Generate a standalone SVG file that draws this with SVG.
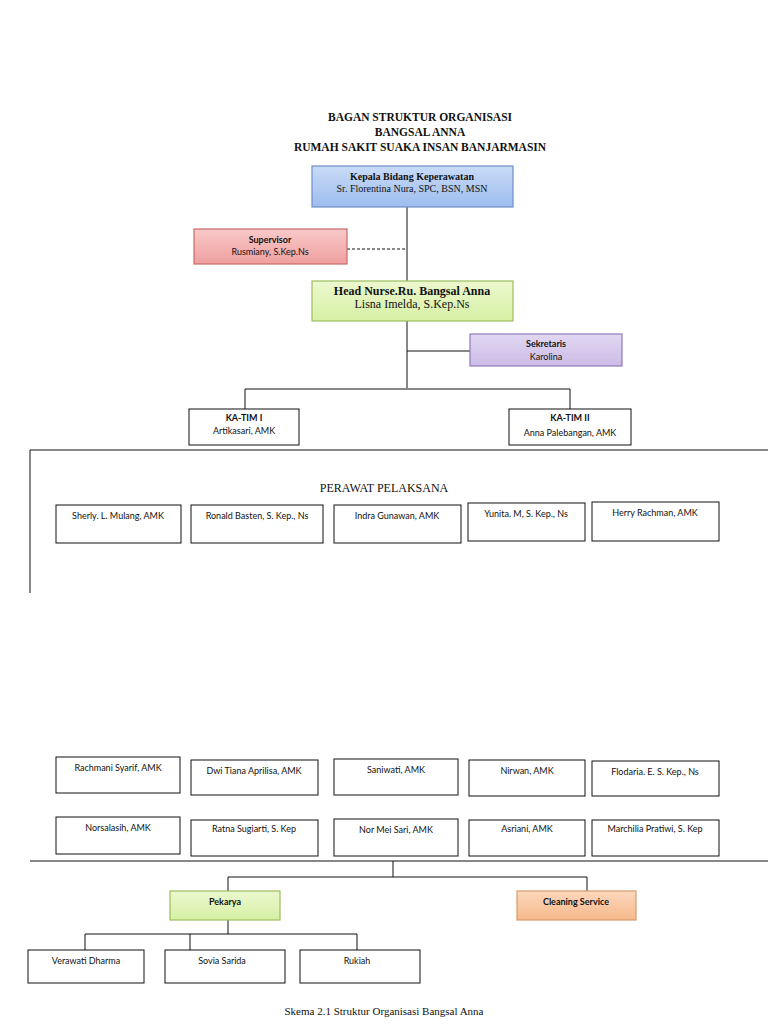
<svg xmlns="http://www.w3.org/2000/svg" width="768" height="1024" viewBox="0 0 768 1024">
<defs>
<linearGradient id="gb" x1="0" y1="0" x2="0" y2="1"><stop offset="0" stop-color="#c9dbf7"/><stop offset="1" stop-color="#9dbdee"/></linearGradient>
<linearGradient id="gr" x1="0" y1="0" x2="0" y2="1"><stop offset="0" stop-color="#f9c9c9"/><stop offset="1" stop-color="#ef9f9f"/></linearGradient>
<linearGradient id="gg" x1="0" y1="0" x2="0" y2="1"><stop offset="0" stop-color="#ecf8cf"/><stop offset="1" stop-color="#d6f0a4"/></linearGradient>
<linearGradient id="gp" x1="0" y1="0" x2="0" y2="1"><stop offset="0" stop-color="#e2d8f2"/><stop offset="1" stop-color="#cbbbe6"/></linearGradient>
<linearGradient id="go" x1="0" y1="0" x2="0" y2="1"><stop offset="0" stop-color="#fbd8bd"/><stop offset="1" stop-color="#f6b88a"/></linearGradient>
</defs>
<style>
.t{font-family:"Liberation Serif",serif;font-weight:bold;font-size:11.5px;text-anchor:middle;fill:#111}
.s{font-family:"Liberation Serif",serif;text-anchor:middle;fill:#111}
.c{font-family:Lato,"Liberation Sans",sans-serif;font-size:9px;text-anchor:middle;fill:#111}
.b{font-weight:bold}
.w{fill:#fff;stroke:#111;stroke-width:1}
.col{stroke-width:1.2}
.ln{stroke:#111;stroke-width:1;fill:none}
</style>
<rect width="768" height="1024" fill="#fff"/>
<text class="t" x="420" y="121">BAGAN STRUKTUR ORGANISASI</text>
<text class="t" x="420" y="136">BANGSAL ANNA</text>
<text class="t" x="420" y="151">RUMAH SAKIT SUAKA INSAN BANJARMASIN</text>
<g id="connectors" class="ln">
<path d="M407 207V388M245 409V389H570V409M407 351H470"/>
<path d="M347 249H407" stroke-dasharray="3,2"/>
<path d="M30 593V450H770V593"/>
<path d="M30 861H773M393 861V877M228 891V877H587V891M228 920V934M85 950V934H357V950M190 934V950"/>
</g>
<g id="kepala"><rect x="312" y="166" width="201" height="41" fill="url(#gb)" stroke="#6d8fc7" class="col"/><text class="s b" x="412" y="180" font-size="10">Kepala Bidang Keperawatan</text><text class="s" x="412" y="192" font-size="10">Sr. Florentina Nura, SPC, BSN, MSN</text></g>
<g id="supervisor"><rect x="194" y="229" width="153" height="35" fill="url(#gr)" stroke="#c96a6a" class="col"/><text class="c b" x="270" y="243">Supervisor</text><text class="c" x="270" y="255">Rusmiany, S.Kep.Ns</text></g>
<g id="headnurse"><rect x="312" y="281" width="201" height="40" fill="url(#gg)" stroke="#9cbf5f" class="col"/><text class="s b" x="412" y="295" font-size="12">Head Nurse.Ru. Bangsal Anna</text><text class="s" x="412" y="308" font-size="12">Lisna Imelda, S.Kep.Ns</text></g>
<g id="sekretaris"><rect x="470" y="334" width="152" height="32" fill="url(#gp)" stroke="#8f7ab8" class="col"/><text class="c b" x="546" y="347">Sekretaris</text><text class="c" x="546" y="360">Karolina</text></g>
<g id="katim1"><rect x="189" y="409" width="110" height="36" class="w"/><text class="c b" x="244" y="421">KA-TIM I</text><text class="c" x="244" y="434">Artikasari, AMK</text></g>
<g id="katim2"><rect x="509" y="409" width="122" height="36" class="w"/><text class="c b" x="570" y="421">KA-TIM II</text><text class="c" x="570" y="436">Anna Palebangan, AMK</text></g>
<text class="s" x="384" y="492" font-size="12">PERAWAT PELAKSANA</text>
<g id="p1"><rect x="56" y="505" width="125" height="38" class="w"/><text class="c" x="118" y="519">Sherly. L. Mulang, AMK</text></g>
<g id="p2"><rect x="191" y="505" width="132" height="38" class="w"/><text class="c" x="257" y="519">Ronald Basten, S. Kep., Ns</text></g>
<g id="p3"><rect x="334" y="505" width="127" height="38" class="w"/><text class="c" x="397" y="519">Indra Gunawan, AMK</text></g>
<g id="p4"><rect x="468" y="503" width="117" height="38" class="w"/><text class="c" x="526" y="517">Yunita. M, S. Kep., Ns</text></g>
<g id="p5"><rect x="592" y="502" width="127" height="39" class="w"/><text class="c" x="655" y="516">Herry Rachman, AMK</text></g>
<g id="p6"><rect x="56" y="757" width="124" height="36" class="w"/><text class="c" x="118" y="771">Rachmani Syarif, AMK</text></g>
<g id="p7"><rect x="191" y="760" width="127" height="35" class="w"/><text class="c" x="254" y="774">Dwi Tiana Aprilisa, AMK</text></g>
<g id="p8"><rect x="334" y="759" width="124" height="36" class="w"/><text class="c" x="396" y="773">Saniwati, AMK</text></g>
<g id="p9"><rect x="469" y="760" width="116" height="36" class="w"/><text class="c" x="527" y="774">Nirwan, AMK</text></g>
<g id="p10"><rect x="592" y="761" width="127" height="35" class="w"/><text class="c" x="655" y="775">Flodaria. E. S. Kep., Ns</text></g>
<g id="p11"><rect x="56" y="817" width="124" height="37" class="w"/><text class="c" x="118" y="831">Norsalasih, AMK</text></g>
<g id="p12"><rect x="191" y="820" width="127" height="36" class="w"/><text class="c" x="254" y="832">Ratna Sugiarti, S. Kep</text></g>
<g id="p13"><rect x="334" y="819" width="124" height="37" class="w"/><text class="c" x="396" y="833">Nor Mei Sari, AMK</text></g>
<g id="p14"><rect x="469" y="820" width="116" height="36" class="w"/><text class="c" x="527" y="832">Asriani, AMK</text></g>
<g id="p15"><rect x="592" y="820" width="127" height="36" class="w"/><text class="c" x="655" y="832">Marchilia Pratiwi, S. Kep</text></g>
<g id="pekarya"><rect x="170" y="891" width="110" height="29" fill="url(#gg)" stroke="#9cbf5f" class="col"/><text class="c b" x="225" y="905">Pekarya</text></g>
<g id="cleaning"><rect x="517" y="891" width="119" height="29" fill="url(#go)" stroke="#d99a6a" class="col"/><text class="c b" x="576" y="905">Cleaning Service</text></g>
<g id="k1"><rect x="28" y="950" width="116" height="33" class="w"/><text class="c" x="86" y="964">Verawati Dharma</text></g>
<g id="k2"><rect x="165" y="950" width="120" height="33" class="w"/><text class="c" x="222" y="964">Sovia Sarida</text></g>
<g id="k3"><rect x="300" y="950" width="120" height="33" class="w"/><text class="c" x="357" y="964">Rukiah</text></g>
<text class="s" x="384" y="1015" font-size="11">Skema 2.1 Struktur Organisasi Bangsal Anna</text>
</svg>
